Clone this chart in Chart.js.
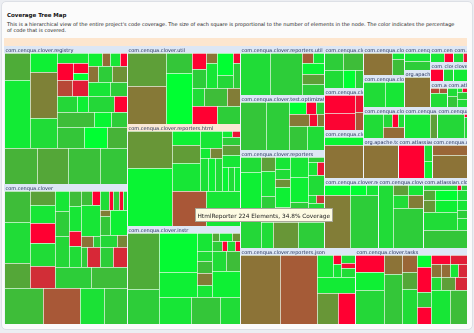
<!DOCTYPE html>
<html lang="en">
<head>
    <meta charset="UTF-8">
    <title>Coverage Tree Map</title>
    <script src="https://cdn.jsdelivr.net/npm/chart.js"></script>
    <style>
        body { margin: 0; background: #eceef2; font-family: "DejaVu Sans", Verdana, sans-serif; }
        #panel { position: absolute; left: 1px; top: 1px; width: 470px; height: 327px; background: #fbfbfb; border: 1px solid #dde0e6; border-radius: 5px; }
        #title { position: absolute; left: 7px; top: 12px; margin: 0; font-size: 5.5px; font-weight: bold; color: #111; }
        #desc { position: absolute; left: 7px; top: 22px; width: 451px; margin: 0; font-size: 5px; line-height: 5.6px; color: #222; }
        #chart { position: absolute; left: 0; top: 0; }
    </style>
</head>
<body>
    <div id="panel"></div>
    <h2 id="title">Coverage Tree Map</h2>
    <p id="desc">This is a hierarchical view of the entire project's code coverage. The size of each square is proportional to the number of elements in the node. The color indicates the percentage of code that is covered.</p>
    <canvas id="chart" width="474" height="333"></canvas>
    <script>
        // packages (nodes of the tree)
        const packageKeys = ['registry', 'clover', 'util', 'html', 'instr', 'rutil', 'testopt', 'reporters',
            'cl1', 'cl2', 'cl3', 'clo1', 'clo2', 'clo3', 'cenq', 'apache1', 's1', 's2', 's3', 's4', 's5', 's6', 's7',
            'cenqA', 'cenqB', 'apache2', 'atl1', 'cenqC', 'cloverN', 'clov', 'atl2', 'json', 'tasks'];
        const packageNames = ['com.cenqua.clover.registry', 'com.cenqua.clover', 'com.cenqua.clover.util',
            'com.cenqua.clover.reporters.html', 'com.cenqua.clover.instr', 'com.cenqua.clover.reporters.util',
            'com.cenqua.clover.test.optimization', 'com.cenqua.clover.reporters',
            'com.cenqua.clover.cfg', 'com.cenqua.clover.context', 'com.cenqua.clover.cmdline',
            'com.cenqua.clover.api', 'com.cenqua.clover.recorder', 'com.cenqua.clover.optimization',
            'com.cenqua.clover.io', 'org.apache.tools.ant', 'com.cenqua.clover.spi', 'com.cenqua.clover.lang',
            'com.cenqua.clover.model', 'clover.antlr', 'clover.retrotranslator', 'com.atlassian.clover.api',
            'com.atlassian.clover.util', 'com.cenqua.clover.reporters.xml', 'com.cenqua.clover.reporters.pdf',
            'org.apache.tools.ant.taskdefs', 'com.atlassian.clover.instr', 'com.cenqua.clover.reporters.console',
            'com.cenqua.clover.net', 'com.cenqua.clover.services', 'com.atlassian.clover.reporters',
            'com.cenqua.clover.reporters.json', 'com.cenqua.clover.tasks'];
        const packageElements = [3858, 3914, 2003, 2620, 2517, 935, 1050, 1871, 372, 372, 425, 270, 298, 289,
            142, 219, 84, 51, 56, 43, 60, 100, 118, 233, 211, 318, 309, 318, 859, 716, 700, 1986, 1935];

        // relative class sizes inside each package (nested groups)
        const classSizes = [
            [[[[[[70, 174], [51, 124, 78]]], [[[31, [26, [14, 10]], [24, 25], [32, 18]], [[18, 10, 13, 9], [16, 22, 24], [31, 24], [42, 21]]], [[[55, 26, 24], [54, 46, 40]]]]], [119, 112, 115, 97]]],
            [[[[81, 104, 65], [35, 45, 50, 58, 53], [[[28, 35, 42], [18, 30, 18, 24], [[15, 11], 57, [14, 8], [11, 25]], [[17, 8, 11, 8, 8], [[6, 19], 42], [20, 12], [25, 27]]], [76, 75]]], [140, 133, 86, 83]]],
            [[129, 148], [50, 128], [[[22, 27], [11, 28], [35, 21], [7, 18]], [22, 41, 23], [45, 41]]],
            [[163, 255], [[[39, 50, 78], [37, [10, 12], [26, 23, 23]], [[6, 5], 14, 18, 22, [14, 14, 14]]], [119, 119]]],
            [[179, 112], [[[144, 93], [27, 15, 18, 18, 18], [[6, 10, 6], [10, 5, 8, 5], [28, 28], 73]], [86, 76, 54]]],
            [126, 130, [[11, 11], 24, 22, 24]],
            [125, 110, [[20, 12, 10], [24, 10, 8], [43, 41]]],
            [[32, 95, 65], [[[18, 33, 34], [18, 15, 12, 30, 23], [36, 45, 36], [8, [12, 9], 32, [6, 6], 30]], [29, 65, 68]]],
            [[32, 34], [34, [22, 14]]],
            [[56, 53], [14, 14]],
            [[31, 129]],
            [64, [7, 19]],
            [55, 48],
            [48, [[12, 8, 8], 23]],
            [[21, 23]],
            [1],
            [13, 8],
            [10, 4],
            [1],
            [1],
            [1],
            [[[5, 4], 24]],
            [[8, 11], [[2, 2], 7, 8]],
            [62, 17],
            [65, [1, 6]],
            [1],
            [86, [13, 14]],
            [[35, 81]],
            [[26, 138], [[16, 12], 148]],
            [95, [[[15, 20], [15, 20]], 120]],
            [[[[17, [12, 22], [14, 26], 61], [[2, 3], 10, 10, 8, 12]], 79]],
            [276, 248, [[35, [7, 10], [11, 7, 13]], 61, [65, 53]]],
            [[49, 52, 99], [32, 85], [26, 26, 53], [17, 35, 21, 24], [[16, 15], [12, 12, 10, 12], [13, 17, 16], [61, 58]]]
        ];
        // coverage % of each class, in the same (depth first) order
        const classCoverage = [
            [80, 96, 97, 62, 93, 95, 0, 0, 100, 30, 15, 92, 97, 97, 50, 95, 0, 55, 90, 70, 95, 90, 92, 0, 85, 98, 90, 88, 100, 82, 82, 78, 86, 88],
            [85, 93, 78, 76, 95, 0, 93, 22, 95, 90, 92, 85, 95, 5, 93, 85, 0, 95, 55, 90, 90, 20, 93, 0, 90, 5, 95, 60, 88, 97, 92, 65, 90, 20, 90, 85, 85, 35, 94, 88],
            [75, 58, 88, 100, 0, 90, 55, 95, 100, 92, 5, 90, 93, 85, 60, 0, 90],
            [72, 98, 97, 74, 95, 95, 96, 65, 94, 97, 93, 96, 10, 90, 75, 95, 98, 93, 96, 34.8, 95],
            [80, 90, 99, 97, 95, 93, 85, 60, 95, 78, 95, 70, 90, 0, 93, 0, 93, 85, 97, 95, 88, 93],
            [93, 90, 38, 95, 98, 75, 90],
            [88, 90, 100, 0, 90, 58, 5, 60, 88, 93],
            [93, 97, 92, 75, 95, 90, 95, 93, 70, 97, 93, 95, 97, 90, 90, 95, 10, 93, 93, 25, 92, 93, 72, 90],
            [90, 93, 85, 100, 90],
            [0, 2, 10, 35],
            [98, 55],
            [55, 95, 85],
            [93, 95],
            [93, 92, 0, 93, 50],
            [95, 90],
            [56],
            [95, 0],
            [93, 10],
            [0],
            [93],
            [96],
            [30, 35, 93],
            [93, 88, 95, 5, 90, 93],
            [95, 75],
            [92, 0, 92],
            [55],
            [0, 93, 97],
            [45, 55],
            [100, 60, 100, 95, 90],
            [93, 75, 93, 95, 60, 90],
            [93, 78, 100, 72, 97, 93, 0, 90, 93, 95, 90, 93, 88],
            [55, 37, 95, 0, 95, 93, 5, 93, 96, 72, 0],
            [0, 97, 92, 55, 88, 45, 78, 93, 99, 0, 90, 0, 2, 15, 55, 50, 95, 20, 93, 75, 20, 95, 85]
        ];

        // how the packages are grouped on the map (alternating columns / rows)
        const treeLayout = [
            ['registry', 'clover'],
            ['util', 'html', 'instr'],
            [
                [
                    ['rutil', 'testopt', 'reporters'],
                    [
                        [
                            ['cl1', 'cl2', 'cl3'],
                            [
                                [
                                    ['clo1', 'clo2', 'clo3'],
                                    [
                                        [['cenq', 'apache1'], [['s1', 's2'], ['s3', 's4', 's5'], ['s6', 's7']]],
                                        ['cenqA', 'cenqB']
                                    ]
                                ],
                                ['apache2', 'atl1', 'cenqC']
                            ]
                        ],
                        ['cloverN', 'clov', 'atl2']
                    ]
                ],
                ['json', 'tasks']
            ]
        ];

        // the hovered class
        const hoverPackage = 'html';
        const hoverLeaf = 19;
        const hoverName = 'HtmlReporter';
        const hoverElements = 224;

        const coverStops = [0, 20, 35, 55, 70, 80, 90, 100];
        const coverColors = [[255, 0, 50], [215, 40, 55], [168, 88, 55], [140, 115, 55], [110, 145, 55], [78, 172, 56], [45, 205, 57], [0, 255, 50]];
        const HEADER = 7;
        const ROOT_HEADER = 8;
        const MAP_W = 463, MAP_H = 286;

        function coverColor(c) {
            for (let i = 1; i < coverStops.length; i++) {
                if (c <= coverStops[i]) {
                    const t = (c - coverStops[i - 1]) / (coverStops[i] - coverStops[i - 1]);
                    const a = coverColors[i - 1], b = coverColors[i];
                    return 'rgb(' + a.map((v, j) => Math.round(v + (b[j] - v) * t)).join(',') + ')';
                }
            }
            return 'rgb(0,255,50)';
        }

        function weightOf(node) {
            if (typeof node === 'string') return packageElements[packageKeys.indexOf(node)];
            if (typeof node === 'number') return node;
            return node.reduce((s, n) => s + weightOf(n), 0);
        }

        function split(children, x0, y0, x1, y1, horiz, fn) {
            const total = children.reduce((s, c) => s + weightOf(c), 0);
            const len = horiz ? x1 - x0 : y1 - y0;
            let pos = horiz ? x0 : y0;
            children.forEach(c => {
                const step = len * weightOf(c) / total;
                if (horiz) fn(c, pos, y0, pos + step, y1);
                else fn(c, x0, pos, x1, pos + step);
                pos += step;
            });
        }

        const packages = [];
        const leaves = [];

        function placePackage(i, x0, y0, x1, y1) {
            packages.push({ i, x0, y0, x1, y1 });
            const cov = classCoverage[i];
            let k = 0;
            const placeClass = (node, a, b, c, d, horiz) => {
                if (typeof node === 'number') {
                    leaves.push({ pkg: i, idx: k, cover: cov[k], x0: a, y0: b, x1: c, y1: d });
                    k++;
                    return;
                }
                split(node, a, b, c, d, horiz, (n, p, q, r, s) => placeClass(n, p, q, r, s, !horiz));
            };
            placeClass(classSizes[i], x0, y0 + HEADER, x1, y1, true);
        }

        function placeArea(node, x0, y0, x1, y1, horiz) {
            if (typeof node === 'string') {
                placePackage(packageKeys.indexOf(node), x0, y0, x1, y1);
                return;
            }
            split(node, x0, y0, x1, y1, horiz, (c, a, b, cc, d) => placeArea(c, a, b, cc, d, !horiz));
        }

        placeArea(treeLayout, 0, ROOT_HEADER, MAP_W, MAP_H, true);

        const treemapPlugin = {
            id: 'treemap',
            afterDatasetsDraw(chart) {
                const ctx = chart.ctx;
                const xs = chart.scales.x, ys = chart.scales.y;
                const px = v => Math.round(xs.getPixelForValue(v));
                const py = v => Math.round(ys.getPixelForValue(v));
                ctx.save();

                // root header
                ctx.fillStyle = '#fde6cf';
                ctx.fillRect(px(0), py(0), px(MAP_W) - px(0), py(ROOT_HEADER) - py(0));

                leaves.forEach(l => {
                    const X0 = px(l.x0), Y0 = py(l.y0), X1 = px(l.x1), Y1 = py(l.y1);
                    ctx.fillStyle = coverColor(l.cover);
                    ctx.fillRect(X0, Y0, X1 - X0, Y1 - Y0);
                    ctx.fillStyle = 'rgba(235,250,235,0.7)';
                    ctx.fillRect(X0, Y0, X1 - X0, 1);
                    ctx.fillRect(X0, Y0, 1, Y1 - Y0);
                });

                ctx.font = '5px "DejaVu Sans"';
                ctx.textBaseline = 'alphabetic';
                packages.forEach(p => {
                    const X0 = px(p.x0), Y0 = py(p.y0), X1 = px(p.x1), Y1 = py(p.y1);
                    const H = py(p.y0 + HEADER) - Y0;
                    ctx.fillStyle = '#eef3fa';
                    ctx.fillRect(X0, Y0, 1, Y1 - Y0);
                    ctx.fillStyle = packageKeys[p.i] === hoverPackage ? '#fbe8d6' : '#dde7f5';
                    ctx.fillRect(X0, Y0, X1 - X0, H);
                    ctx.save();
                    ctx.beginPath();
                    ctx.rect(X0 + 1, Y0, X1 - X0 - 1, H);
                    ctx.clip();
                    ctx.fillStyle = '#1c2a55';
                    ctx.fillText(packageNames[p.i], X0 + 1.5, Y0 + 5.6);
                    ctx.restore();
                });

                // tooltip of the hovered class
                const pi = packageKeys.indexOf(hoverPackage);
                const leaf = leaves.find(l => l.pkg === pi && l.idx === hoverLeaf);
                if (leaf) {
                    const text = hoverName + ' ' + hoverElements + ' Elements, ' + leaf.cover.toFixed(1) + '% Coverage';
                    ctx.font = '5.8px "DejaVu Sans"';
                    const w = Math.ceil(ctx.measureText(text).width) + 5;
                    const tx = px(leaf.x0 + (leaf.x1 - leaf.x0) * 0.68);
                    const ty = py(leaf.y0 + (leaf.y1 - leaf.y0) * 0.5);
                    ctx.fillStyle = '#fdfbe2';
                    ctx.fillRect(tx, ty, w, 14);
                    ctx.strokeStyle = '#a9a89a';
                    ctx.lineWidth = 1;
                    ctx.strokeRect(tx + 0.5, ty + 0.5, w - 1, 13);
                    ctx.fillStyle = '#222';
                    ctx.fillText(text, tx + 2.5, ty + 9.5);
                }
                ctx.restore();
            }
        };

        new Chart(document.getElementById('chart').getContext('2d'), {
            type: 'scatter',
            data: { datasets: [{ data: [] }] },
            options: {
                responsive: false,
                animation: false,
                layout: { padding: { left: 4, top: 38, right: 7, bottom: 9 } },
                scales: {
                    x: { type: 'linear', min: 0, max: MAP_W, display: false },
                    y: { type: 'linear', min: 0, max: MAP_H, reverse: true, display: false }
                },
                plugins: { legend: { display: false }, tooltip: { enabled: false } }
            },
            plugins: [treemapPlugin]
        });
    </script>
</body>
</html>
